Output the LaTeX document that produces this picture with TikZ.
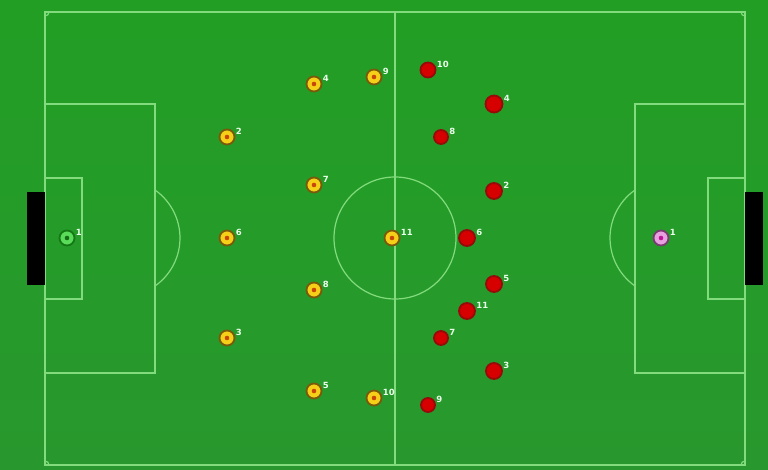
\documentclass[tikz,border=0pt]{standalone}
\usepackage{fontspec}
\setmainfont{DejaVu Sans}
\definecolor{bgtop}{RGB}{34,158,36}
\definecolor{bgbot}{RGB}{40,152,46}
\definecolor{linegreen}{RGB}{130,220,125}
\definecolor{yellowfill}{RGB}{246,208,24}
\definecolor{yellowring}{RGB}{120,90,10}
\definecolor{yellowdot}{RGB}{200,70,10}
\definecolor{redfill}{RGB}{214,0,0}
\definecolor{redring}{RGB}{150,10,10}
\definecolor{gkgreenfill}{RGB}{90,220,90}
\definecolor{gkgreenring}{RGB}{20,120,20}
\definecolor{gkgreendot}{RGB}{20,110,20}
\definecolor{gkpinkfill}{RGB}{232,160,225}
\definecolor{gkpinkring}{RGB}{120,60,110}
\definecolor{gkpinkdot}{RGB}{190,20,150}
\begin{document}
\begin{tikzpicture}[x=1pt,y=-1pt,
  fieldline/.style={draw=linegreen,line width=1.2pt},
  player/.style={circle,minimum size=15pt,inner sep=0pt,line width=1.8pt},
  yp/.style={player,fill=yellowfill,draw=yellowring,
    path picture={\fill[yellowdot] (path picture bounding box.center) circle (2.3pt);}},
  rp/.style={player,fill=redfill,draw=redring},
  lbl/.style={font=\bfseries\fontsize{8.5}{9}\selectfont,text=white!92!green,inner sep=0.5pt,label distance=0pt},
]
\useasboundingbox (0,0) rectangle (768,470);
\shade[top color=bgtop,bottom color=bgbot] (0,0) rectangle (768,470);
% field
\draw[fieldline] (45,12) rectangle (745,465);
\draw[fieldline] (395,12) -- (395,465);
\draw[fieldline] (395,238) circle (61);
\draw[fieldline] (45,104) rectangle (155,373);
\draw[fieldline] (45,178) rectangle (82,299);
\draw[fieldline] (635,104) rectangle (745,373);
\draw[fieldline] (708,178) rectangle (745,299);
\draw[fieldline] (155,190) arc[start angle=-55,end angle=55,radius=58.6];
\draw[fieldline] (635,190) arc[start angle=235,end angle=125,radius=58.6];
% corners
\draw[fieldline] (45,16) arc[start angle=90,end angle=0,radius=4];
\draw[fieldline] (741,12) arc[start angle=180,end angle=90,radius=4];
\draw[fieldline] (49,465) arc[start angle=0,end angle=-90,radius=4];
\draw[fieldline] (745,461) arc[start angle=270,end angle=180,radius=4];
% goals
\fill[black] (27,192) rectangle (45,285);
\fill[black] (745,192) rectangle (763,285);
% home team (yellow)
\node[player,fill=gkgreenfill,draw=gkgreenring,
  path picture={\fill[gkgreendot] (path picture bounding box.center) circle (2.3pt);},
  label={[lbl]10:1}] (hgk) at (67,238) {};
\node[yp,label={[lbl]10:2}] (h2) at (227,137) {};
\node[yp,label={[lbl]10:3}] (h3) at (227,338) {};
\node[yp,label={[lbl]10:4}] (h4) at (314,84) {};
\node[yp,label={[lbl]10:5}] (h5) at (314,391) {};
\node[yp,label={[lbl]10:6}] (h6) at (227,238) {};
\node[yp,label={[lbl]10:7}] (h7) at (314,185) {};
\node[yp,label={[lbl]10:8}] (h8) at (314,290) {};
\node[yp,label={[lbl]10:9}] (h9) at (374,77) {};
\node[yp,label={[lbl]10:10}] (h10) at (374,398) {};
\node[yp,label={[lbl]10:11}] (h11) at (392,238) {};
% away team (red)
\node[rp,label={[lbl]10:10}] (a10) at (428,70) {};
\node[rp,minimum size=17pt,label={[lbl]10:4}] (a4) at (494,104) {};
\node[rp,minimum size=14pt,label={[lbl]10:8}] (a8) at (441,137) {};
\node[rp,minimum size=16pt,label={[lbl]10:2}] (a2) at (494,191) {};
\node[rp,minimum size=16pt,label={[lbl]10:6}] (a6) at (467,238) {};
\node[rp,minimum size=16pt,label={[lbl]10:5}] (a5) at (494,284) {};
\node[rp,minimum size=16pt,label={[lbl]10:11}] (a11) at (467,311) {};
\node[rp,minimum size=14pt,label={[lbl]10:7}] (a7) at (441,338) {};
\node[rp,minimum size=16pt,label={[lbl]10:3}] (a3) at (494,371) {};
\node[rp,minimum size=14pt,label={[lbl]10:9}] (a9) at (428,405) {};
\node[player,fill=gkpinkfill,draw=gkpinkring,
  path picture={\fill[gkpinkdot] (path picture bounding box.center) circle (2.3pt);},
  label={[lbl]10:1}] (agk) at (661,238) {};
\end{tikzpicture}
\end{document}
